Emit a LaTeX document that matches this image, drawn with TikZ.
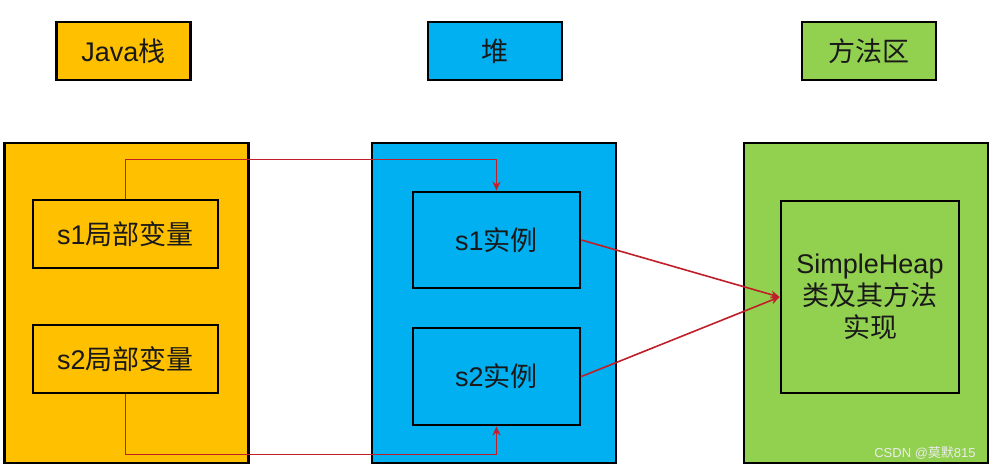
\documentclass[tikz,border=0pt]{standalone}
\usepackage{fontspec}
\setmainfont{Liberation Sans}
\newfontfamily\cjk{Noto Sans CJK SC}
\usetikzlibrary{arrows.meta}
\definecolor{jorange}{RGB}{255,192,0}
\definecolor{hblue}{RGB}{0,176,240}
\definecolor{mgreen}{RGB}{146,208,80}
\definecolor{linkred}{RGB}{192,30,40}
\definecolor{ink}{RGB}{25,25,25}
\begin{document}
\begin{tikzpicture}[x=1pt,y=-1pt,
  box/.style={draw=black, line width=2.8pt, inner sep=0pt, align=center,
    text=ink, font=\fontsize{27}{32}\selectfont},
  title/.style={box, minimum width=134, minimum height=58},
  area/.style={box, minimum width=244, minimum height=320},
  link/.style={draw=linkred, line width=1.6pt},
  tip/.style={-{Stealth[length=9pt,width=8pt]}}]
\useasboundingbox (0,0) rectangle (998,471);
% titles
\node[title, fill=jorange] (t1) at (123.5,51) {Java{\cjk 栈}};
\node[title, fill=hblue] (t2) at (495,51) {{\cjk 堆}};
\node[title, fill=mgreen] (t3) at (869,51) {{\cjk 方法区}};
% areas
\node[area, fill=jorange] (a1) at (126.5,303) {};
\node[area, fill=hblue] (a2) at (494,303) {};
\node[area, fill=mgreen] (a3) at (866,303) {};
% inner boxes
\node[box, fill=jorange, minimum width=185, minimum height=68] (v1) at (125.5,234) {s1{\cjk 局部变量}};
\node[box, fill=jorange, minimum width=185, minimum height=68] (v2) at (125.5,359) {s2{\cjk 局部变量}};
\node[box, fill=hblue, minimum width=167, minimum height=96] (i1) at (496.5,240) {s1{\cjk 实例}};
\node[box, fill=hblue, minimum width=167, minimum height=97] (i2) at (496.5,376.5) {s2{\cjk 实例}};
\node[box, fill=mgreen, minimum width=178, minimum height=192] (m) at (870,297) {SimpleHeap\\{\cjk 类及其方法}\\{\cjk 实现}};
% watermark
\node[font=\fontsize{13}{15}\selectfont, text=white!85!gray] (wm) at (925,453) {CSDN @{\cjk 莫默}815};
% connectors
\draw[link, tip] (v1.north) -- ++(0,-39) -| (i1.north);
\draw[link, tip] (v2.south) -- ++(0,60) -| (i2.south);
\draw[link, tip] (i1.east) -- (m.west);
\draw[link, tip] (i2.east) -- (m.west);
\end{tikzpicture}
\end{document}
